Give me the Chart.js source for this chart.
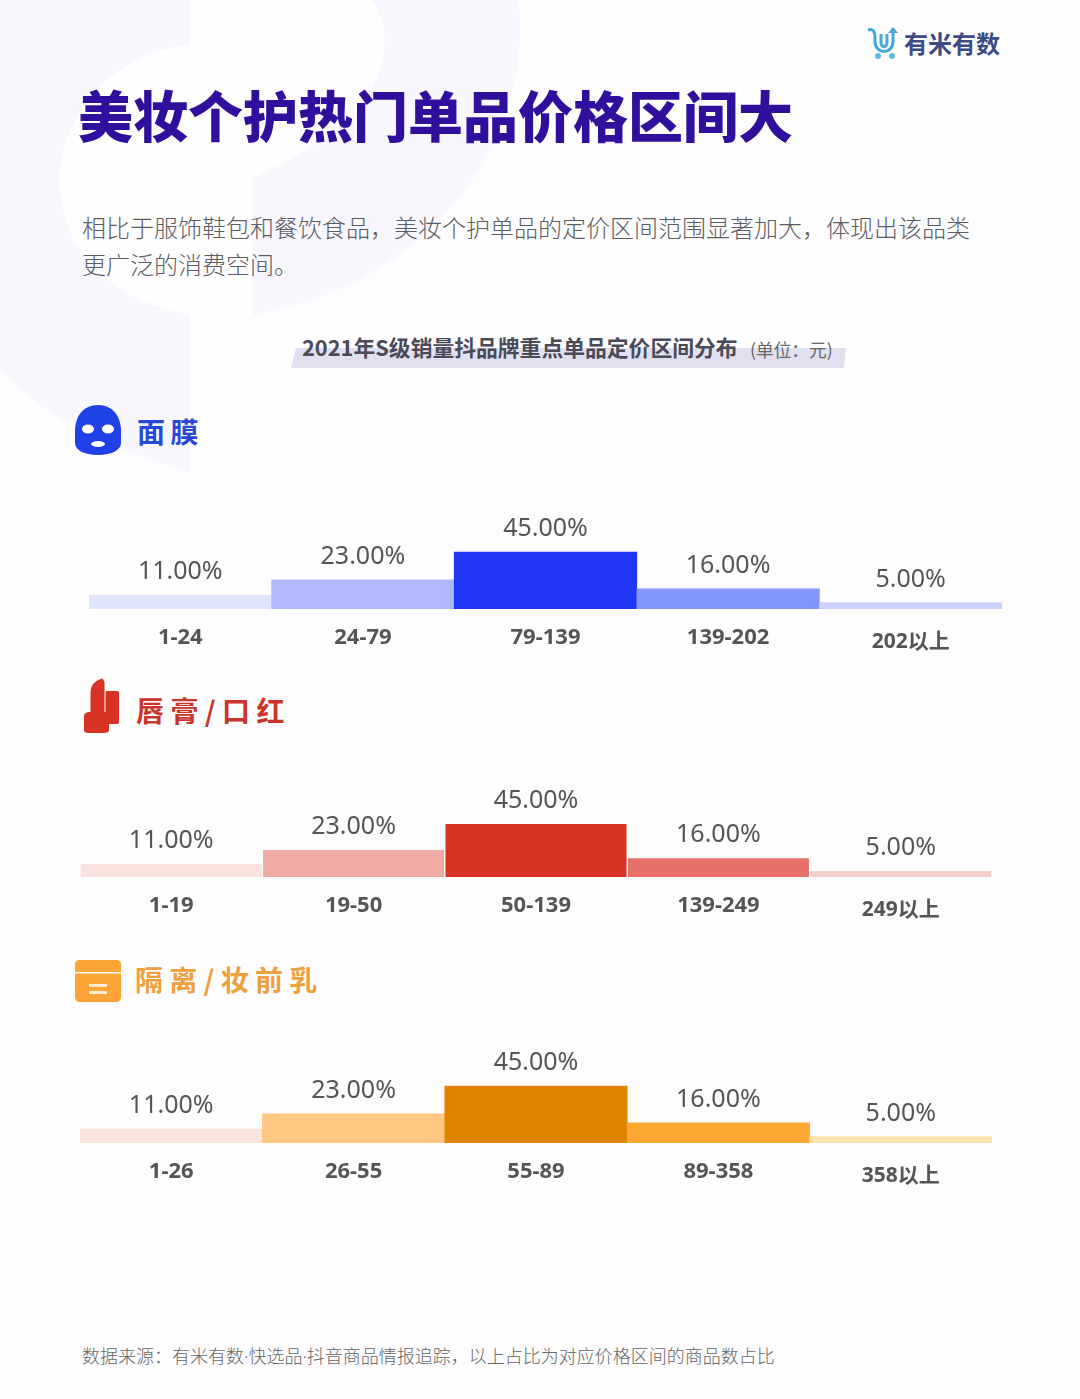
<!DOCTYPE html>
<html lang="zh">
<head>
<meta charset="utf-8">
<title>美妆个护热门单品价格区间大</title>
<script src="https://cdn.jsdelivr.net/npm/chart.js@4"></script>
<style>
  html, body { margin: 0; padding: 0; background: #fdfdfd; }
  #page { position: relative; width: 1080px; height: 1399px; overflow: hidden; font-family: "Noto Sans CJK SC", "Noto Sans", sans-serif; }
  #page > * { position: absolute; }
  .txt { white-space: nowrap; margin: 0; }
  #title { left: 78px; top: 73px; font-size: 55px; line-height: 80px; font-weight: 900; color: #300f9c; }
  .intro { left: 82px; font-size: 24px; line-height: 36px; font-weight: 300; color: #5c5c63; }
  #subtitle { left: 302px; top: 331px; font-size: 21.8px; line-height: 32px; font-weight: 700; color: #4a4a58; }
  #unit { left: 750px; top: 336px; font-size: 17.7px; line-height: 26px; color: #666; }
  .head { font-size: 28px; line-height: 40px; font-weight: 700; letter-spacing: 5.5px; }
  #source { left: 82px; top: 1342px; font-family: "Noto Sans", "Noto Sans CJK SC", sans-serif; font-size: 18px; line-height: 28px; font-weight: 300; color: #666; }
  canvas { position: absolute; }
</style>
</head>
<body>
<div id="page">
  <svg width="1080" height="520" style="left:0;top:0">
    <path d="M0 0H518C535 120 450 280 252 315H190V472C110 450 40 415 0 368Z" fill="#f7f7fd"/>
    <path d="M190 0H372C400 40 390 120 252 178V315H190C110 300 60 250 60 180C60 110 120 50 190 45Z" fill="#fefefe"/>
    <path d="M296 348H846L844 368H291Z" fill="#e1e0f0"/>
    <!-- mask icon -->
    <path d="M98 405C113 405 121 417 121 431V443C121 450 112 455 98 455C84 455 75 450 75 443V431C75 417 83 405 98 405Z" fill="#2040e8"/>
    <ellipse cx="88" cy="429" rx="6" ry="4.5" fill="#fff"/>
    <ellipse cx="108" cy="429" rx="6" ry="4.5" fill="#fff"/>
    <ellipse cx="98" cy="444" rx="7" ry="3" fill="#fff"/>
    <!-- logo -->
    <path d="M868 30C874 28 875 33 875 38V41C875 55 893 55 893 41V32M881 34V42C881 48 887 48 887 42V34" fill="none" stroke="#46a9d6" stroke-width="3"/>
    <path d="M888 33L893 27L898 33Z" fill="#46a9d6"/>
    <circle cx="878" cy="56" r="3" fill="#5ebde6"/>
    <circle cx="892" cy="56" r="3" fill="#5ebde6"/>
  </svg>
  <svg width="120" height="80" style="left:70px;top:670px">
    <rect x="35" y="21" width="14" height="33" rx="2" fill="#d63324"/>
    <path d="M20 22C20 14 27 9 33 8L35 12V44H20Z" fill="#d63324" stroke="#fdfdfd" stroke-width="1"/>
    <path d="M14 46Q14 43 18 42H36Q39 42 39 46V60Q39 63 34 63H18Q14 63 14 60Z" fill="#d63324"/>
  </svg>
  <svg width="60" height="50" style="left:70px;top:955px">
    <path d="M5 17V9C5 7 7 5 9 5H47C49 5 51 7 51 9V17Z" fill="#fca435"/>
    <path d="M5 18.5H51V42C51 45 49 47 46 47H10C7 47 5 45 5 42Z" fill="#fca435"/>
    <rect x="19" y="29" width="18" height="3" fill="#fdeccf"/>
    <rect x="19" y="36" width="18" height="3" fill="#fdeccf"/>
  </svg>

  <p class="txt" style="left:904px;top:25px;font-size:24px;line-height:36px;font-weight:700;color:#3c4a86">有米有数</p>
  <h1 class="txt" id="title">美妆个护热门单品价格区间大</h1>
  <p class="txt intro" style="top:209px">相比于服饰鞋包和餐饮食品，美妆个护单品的定价区间范围显著加大，体现出该品类</p>
  <p class="txt intro" style="top:246px">更广泛的消费空间。</p>
  <p class="txt" id="subtitle">2021年S级销量抖品牌重点单品定价区间分布</p>
  <p class="txt" id="unit">(单位：元)</p>

  <p class="txt head" style="left:137px;top:411px;color:#2a48d6">面膜</p>
  <canvas id="mask" width="913" height="160" style="left:89px;top:499px"></canvas>

  <p class="txt head" style="left:136px;top:690px;color:#c9352a;letter-spacing:6.4px">唇膏/口红</p>
  <canvas id="lipstick" width="912" height="160" style="left:80px;top:767px"></canvas>

  <p class="txt head" style="left:135px;top:959px;color:#eea03c;letter-spacing:6.3px">隔离/妆前乳</p>
  <canvas id="primer" width="912" height="160" style="left:80px;top:1033px"></canvas>

  <p class="txt" id="source">数据来源：有米有数·快选品·抖音商品情报追踪，以上占比为对应价格区间的商品数占比</p>
</div>

<script>
const maskRanges = ['1-24', '24-79', '79-139', '139-202', '202以上'];
const lipstickRanges = ['1-19', '19-50', '50-139', '139-249', '249以上'];
const primerRanges = ['1-26', '26-55', '55-89', '89-358', '358以上'];

const maskShares = [11, 23, 45, 16, 5];
const lipstickShares = [11, 23, 45, 16, 5];
const primerShares = [11, 23, 45, 16, 5];

const maskColors = ['#e1e5fb', '#b0b9fb', '#1f36f5', '#8296fb', '#ccd2fb'];
const lipstickColors = ['#fbe2df', '#eeaaa3', '#d63324', '#e5716a', '#f7cfca'];
const primerColors = ['#fbe4de', '#fec782', '#e08400', '#ffa733', '#fbdfac'];

const shareLabels = {
  id: 'shareLabels',
  afterDatasetsDraw(chart) {
    const ctx = chart.ctx;
    const values = chart.data.datasets[0].data;
    ctx.save();
    ctx.font = '25px "Noto Sans"';
    ctx.fillStyle = '#555';
    ctx.textAlign = 'center';
    ctx.textBaseline = 'bottom';
    chart.getDatasetMeta(0).data.forEach((bar, i) => {
      ctx.fillText(values[i].toFixed(2) + '%', bar.x, bar.y - 10.5);
    });
    ctx.restore();
  }
};

function generateBar(id, labels, values, colors, yMax, gap) {
  new Chart(document.getElementById(id), {
    type: 'bar',
    data: {
      labels: labels,
      datasets: [
        {
          data: values,
          backgroundColor: colors,
          borderColor: '#fdfdfd',
          borderWidth: gap ? { left: gap, right: gap } : 0,
          barPercentage: 1,
          categoryPercentage: 1
        }
      ]
    },
    options: {
      responsive: false,
      animation: false,
      layout: { padding: 0 },
      plugins: {
        legend: { display: false },
        tooltip: { enabled: false }
      },
      scales: {
        x: {
          grid: { display: false, drawTicks: false },
          border: { display: false },
          afterFit(scale) { scale.height = 50; },
          ticks: {
            color: '#555',
            padding: 17,
            maxRotation: 0,
            autoSkip: false,
            // the 以上 labels sit a little lower than the others
            font: c => ({
              family: '"Noto Sans", "Noto Sans CJK SC"',
              size: c.index === 4 ? 21 : 22,
              weight: 'bold',
              lineHeight: c.index === 4 ? '32px' : '24px'
            })
          }
        },
        y: { display: false, min: 0, max: yMax }
      }
    },
    plugins: [shareLabels]
  });
}

generateBar('mask', maskRanges, maskShares, maskColors, 86.8, 0);
generateBar('lipstick', lipstickRanges, lipstickShares, lipstickColors, 93.4, 1);
generateBar('primer', primerRanges, primerShares, primerColors, 86.8, 0);
</script>
</body>
</html>
